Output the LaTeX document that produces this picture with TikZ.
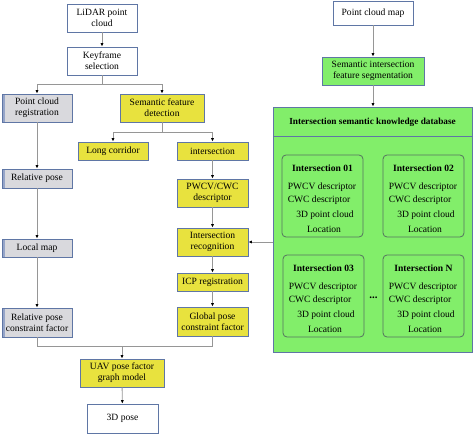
\documentclass[tikz,border=0pt]{standalone}
\usepackage{fontspec}
\setmainfont{Liberation Serif}
\usetikzlibrary{arrows.meta,calc}
\definecolor{bordc}{RGB}{95,118,165}
\definecolor{yel}{RGB}{232,226,62}
\definecolor{grn}{RGB}{130,238,106}
\definecolor{gry}{RGB}{217,217,221}
\definecolor{grystrip}{RGB}{150,165,200}
\definecolor{conn}{RGB}{150,150,150}
\definecolor{inbord}{RGB}{85,115,95}
\tikzset{
  base/.style={draw=bordc,line width=0.8bp,align=center,inner sep=1bp,
    font=\fontsize{9.6}{11.2}\selectfont},
  whitebox/.style={base,fill=white},
  yelbox/.style={base,fill=yel},
  grnbox/.style={base,fill=grn},
  grybox/.style={base,fill=gry,path picture={\fill[grystrip]
    (path picture bounding box.south west) rectangle
    ([xshift=3bp]path picture bounding box.north west);}},
  conn/.style={draw=conn,line width=0.9bp,-{Latex[black,length=3.5bp,width=3.2bp]}},
  connl/.style={draw=conn,line width=0.9bp},
  intbox/.style={draw=inbord,line width=0.8bp,rounded corners=4bp,fill=grn},
  inttxt/.style={font=\fontsize{9.6}{10}\selectfont,inner sep=0pt},
}
\newcommand{\bx}[7]{% style, name, x1, y1, x2, y2, text
  \node[#1,minimum width=#5bp-#3bp,minimum height=#6bp-#4bp] (#2) at ({(#3+#5)/2},{(#4+#6)/2}) {#7};}
\newcommand{\intsec}[4]{% name, cx, top, title
  \node[intbox,minimum width=81bp,minimum height=82bp] (#1) at (#2,{#3+41}) {};
  \node[inttxt,font=\fontsize{9.6}{10}\selectfont\bfseries] (#1t) at (#2,{#3+13}) {#4};
  \node[inttxt] (#1a) at ({#2-0.5},{#3+32}) {PWCV descriptor};
  \node[inttxt] (#1b) at ({#2-3.5},{#3+45.5}) {CWC descriptor};
  \node[inttxt] (#1c) at ({#2+2.5},{#3+60}) {3D point cloud};
  \node[inttxt] (#1d) at ({#2+1.5},{#3+74}) {Location};}
\begin{document}
\begin{tikzpicture}[x=1bp,y=-1bp]
\useasboundingbox (0,0) rectangle (474,435);
% left column boxes
\bx{whitebox}{lidar}{67}{4}{137}{32}{LiDAR point\\cloud}
\bx{whitebox}{key}{67}{47}{137}{75}{Keyframe\\selection}
\bx{grybox}{pcr}{2}{94}{72}{122}{Point cloud\\registration}
\bx{yelbox}{sfd}{120}{94}{204}{122}{Semantic feature\\detection}
\bx{yelbox}{lc}{78}{142}{148}{160}{Long corridor}
\bx{yelbox}{inter}{177}{142}{248}{160}{intersection}
\bx{grybox}{rp}{2}{169}{72}{188}{Relative pose}
\bx{yelbox}{desc}{177}{179}{248}{207}{PWCV/CWC\\descriptor}
\bx{yelbox}{irec}{177}{228}{248}{256}{Intersection\\recognition}
\bx{grybox}{lm}{2}{239}{72}{257}{Local map}
\bx{yelbox}{icp}{177}{273}{248}{291}{ICP registration}
\bx{yelbox}{gpcf}{177}{307}{248}{336}{Global pose\\constraint factor}
\bx{grybox}{rpcf}{2}{308}{72}{337}{Relative pose\\constraint factor}
\bx{yelbox}{uav}{80}{359}{164}{387}{UAV pose factor\\graph model}
\bx{whitebox}{pose}{87}{404}{158}{433}{3D pose}
% right column
\bx{whitebox}{pcm}{333}{1}{413}{25}{Point cloud map}
\bx{grnbox}{sifs}{322}{57}{424}{85}{Semantic intersection\\feature segmentation}
\node[draw=bordc,line width=0.8bp,fill=grn,minimum width=199bp,minimum height=245bp,inner sep=0pt] (db) at (372.5,229.5) {};
\draw[bordc,line width=0.8bp] (273,136) coordinate (hl) -- (472,136) coordinate (hr);
\node[font=\fontsize{9.3}{10}\selectfont\bfseries,inner sep=0pt] (dbt) at (372.5,122) {Intersection semantic knowledge database};
\intsec{ia}{322.5}{155}{Intersection 01}
\intsec{ib}{423.5}{155}{Intersection 02}
\intsec{ic}{323.5}{255}{Intersection 03}
\intsec{id}{423.5}{255}{Intersection N}
\node[font=\fontsize{11}{11}\selectfont\bfseries,inner sep=0pt] (dots) at (373.5,298) {...};
% connectors
\draw[conn] (lidar) -- (key);
\coordinate (k1) at ($(key.south)+(0,9)$);
\draw[connl] (key.south) -- (k1);
\draw[conn] (k1) -| (pcr.north);
\draw[conn] (k1) -| (sfd.north);
\coordinate (s1) at ($(sfd.south)+(0,10)$);
\draw[connl] (sfd.south) -- (s1);
\draw[conn] (s1) -| (lc.north);
\draw[conn] (s1) -| (inter.north);
\draw[conn] (inter) -- (desc);
\draw[conn] (desc) -- (irec);
\draw[conn] (irec) -- (icp);
\draw[conn] (icp) -- (gpcf);
\draw[conn] (pcr) -- (rp);
\draw[conn] (rp) -- (lm);
\draw[conn] (lm) -- (rpcf);
\coordinate (m1) at ($(uav.north)+(0,-12)$);
\draw[connl] (rpcf.south) |- (m1) -| (gpcf.south);
\draw[conn] (m1) -- (uav.north);
\draw[conn] (uav) -- (pose);
\draw[conn] (pcm) -- (sifs);
\draw[conn] (sifs.south) -- (sifs.south |- db.north);
\draw[conn] (db.west |- irec.east) -- (irec.east);
\end{tikzpicture}
\end{document}
